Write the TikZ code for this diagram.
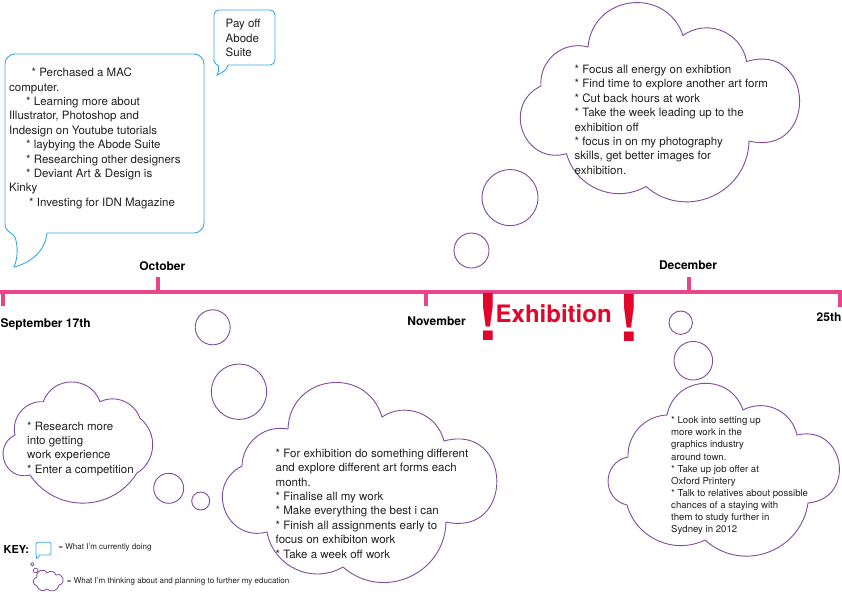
\documentclass[tikz,border=0pt]{standalone}
\usepackage{fontspec}
\setmainfont{TeX Gyre Heros}
\usetikzlibrary{calc}
\definecolor{bubbleblue}{HTML}{3AA8E0}
\definecolor{cloudpurple}{HTML}{7F4C9E}
\definecolor{timepink}{HTML}{E8458B}
\definecolor{exred}{HTML}{E2062C}
\definecolor{txt}{HTML}{231F20}
\tikzset{
 puff/.code={\pgfmathsetmacro\pufflo{0.6667*tan(#1/2)/sin(#1)/0.3915}\edef\puffdo{\noexpand\pgfkeysalso{/tikz/bend left=#1,/tikz/looseness=\pufflo}}\puffdo},
 cloudline/.style={draw=cloudpurple, line width=0.9pt},
 bubbleline/.style={draw=bubbleblue, line width=0.9pt},
 thought/.style={circle, draw=cloudpurple, line width=0.9pt, inner sep=0pt, minimum size=#1},
 bodytext/.style={anchor=base west, inner sep=0pt, text=txt, font=\fontsize{11.5}{14.4}\selectfont},
 smalltext/.style={anchor=base west, inner sep=0pt, text=txt, font=\fontsize{9.6}{12.1}\selectfont},
 keytext/.style={anchor=base west, inner sep=0pt, text=txt, font=\fontsize{8}{10}\selectfont},
 monthlabel/.style={anchor=base, inner sep=0pt, text=black, font=\bfseries\fontsize{12}{14}\selectfont},
 tickline/.style={draw=timepink, line width=4pt},
 bang/.style={anchor=base, inner sep=0pt, text=exred, font=\bfseries\fontsize{65}{65}\selectfont},
}
\newcommand{\bul}{{*}}
\begin{document}
\begin{tikzpicture}[x=1pt,y=-1pt]
\fill[white] (0,0) rectangle (842,595);
\useasboundingbox (0,0) rectangle (842,595);

% ---------- timeline ----------
\coordinate (tlA) at (0,292);
\coordinate (tlB) at (842,292);
\draw[draw=timepink, line width=3.5pt] (tlA) -- (tlB);
\coordinate (tk0) at (3,292);      \coordinate (tk0e) at (3,306);
\coordinate (tk1) at (157.5,292);  \coordinate (tk1e) at (157.5,277);
\coordinate (tk2) at (426,292);    \coordinate (tk2e) at (426,306);
\coordinate (tk3) at (688.5,292);  \coordinate (tk3e) at (688.5,277);
\coordinate (tk4) at (839.5,292);  \coordinate (tk4e) at (839.5,307);
\foreach \a in {0,...,4} \draw[tickline] (tk\a) -- (tk\a e);

\node[monthlabel] (oct) at (162.3,270) {October};
\node[monthlabel] (dec) at (688,269) {December};
\node[monthlabel, anchor=base west] (sep) at (0.5,327) {September 17th};
\node[monthlabel] (nov) at (436.5,325) {November};
\node[monthlabel, anchor=base west] (end) at (816.5,321) {25th};

\node[anchor=base west, inner sep=0pt, text=exred, font=\bfseries\fontsize{24}{24}\selectfont] (exh) at (495.5,322.7) {Exhibition};
\node[bang] (bang1) at (488.3,340.7) {!};
\node[bang] (bang2) at (629,341.5) {!};

% ---------- blue speech bubbles ----------
\draw[bubbleline] (47,233) -- (194,233) .. controls (199.5,233) and (204,228.5) .. (204,223)
  -- (204,64) .. controls (204,58.5) and (199.5,54) .. (194,54)
  -- (15,54) .. controls (9.5,54) and (5,58.5) .. (5,64)
  -- (5,224) .. controls (5,232) and (12,232) .. (15,237)
  .. controls (18,246) and (18,258) .. (14,267)
  .. controls (30,263) and (45,252) .. (47,233) -- cycle;
\node[bodytext] (now) at (9,76.7) {\begin{tabular}[t]{@{}l@{}}
\hspace*{22.5pt}\bul{} Perchased a MAC\\
computer.\\
\hspace*{17pt}\bul{} Learning more about\\
Illustrator, Photoshop and\\
Indesign on Youtube tutorials\\
\hspace*{17pt}\bul{} laybying the Abode Suite\\
\hspace*{17pt}\bul{} Researching other designers\\
\hspace*{17pt}\bul{} Deviant Art \& Design is\\
Kinky\\
\hspace*{20pt}\bul{} Investing for IDN Magazine
\end{tabular}};

\draw[bubbleline] (228,65) -- (270,65) .. controls (272.8,65) and (275,62.8) .. (275,60)
  -- (275,15) .. controls (275,12.2) and (272.8,10) .. (270,10)
  -- (219,10) .. controls (216.2,10) and (214,12.2) .. (214,15)
  -- (214,60) .. controls (214,64) and (217,64) .. (218.5,66)
  .. controls (219,70) and (218.5,73) .. (217,75)
  .. controls (222,73) and (227,70) .. (228,65) -- cycle;
\node[bodytext] (pay) at (225.5,27.7) {\begin{tabular}[t]{@{}l@{}}Pay off\\Abode\\Suite\end{tabular}};

% ---------- cloud 1 (top right) ----------
\draw[cloudline] (541,86) to[puff=55] (588,47) to[puff=78] (683,35.5) to[puff=58] (746.6,61.5)
  to[puff=105] (749,141) to[puff=65] (646,186.5) to[puff=52] (566.5,153.7) to[puff=85] (541,86);
\node[thought=56pt] (c1a) at (510,197.6) {};
\node[thought=35pt] (c1b) at (471.5,250.5) {};
\node[bodytext] (dec1) at (574.5,73.5) {\begin{tabular}[t]{@{}l@{}}
\bul{} Focus all energy on exhibtion\\
\bul{} Find time to explore another art form\\
\bul{} Cut back hours at work\\
\bul{} Take the week leading up to the\\
exhibition off\\
\bul{} focus in on my photography\\
skills, get better images for\\
exhibition.
\end{tabular}};

% ---------- cloud 2 (bottom left) ----------
\draw[cloudline] (15,435) to[puff=53] (43.3,401.7) to[puff=70] (100,401.7) to[puff=48] (140,418.3)
  to[puff=55] (136.7,473.3) to[puff=57] (30,475) to[puff=84] (15,435);
\node[thought=30pt] (c2a) at (168.7,488.3) {};
\node[thought=18pt] (c2b) at (200.7,501) {};
\node[bodytext] (sep1) at (27,430) {\begin{tabular}[t]{@{}l@{}}
\bul{} Research more\\
into getting\\
work experience\\
\bul{} Enter a competition
\end{tabular}};

% ---------- cloud 3 (bottom centre) ----------
\draw[cloudline] (242,466) to[puff=50] (288,429) to[puff=81] (382,417) to[puff=55] (444,441)
  to[puff=104] (446,522) to[puff=65] (343,567) to[puff=55] (267,532) to[puff=84] (242,466);
\node[thought=35pt] (c3a) at (212.7,327.3) {};
\node[thought=55.4pt] (c3b) at (239,391.7) {};
\node[bodytext] (oct1) at (275.5,457.3) {\begin{tabular}[t]{@{}l@{}}
\bul{} For exhibition do something different\\
and explore different art forms each\\
month.\\
\bul{} Finalise all my work\\
\bul{} Make everything the best i can\\
\bul{} Finish all assignments early to\\
focus on exhibiton work\\
\bul{} Take a week off work
\end{tabular}};

% ---------- cloud 4 (bottom right) ----------
\draw[cloudline] (628,457) to[puff=45] (667,415) to[puff=75] (743,410) to[puff=53] (797,435)
  to[puff=94] (808,503) to[puff=62] (705,540) to[puff=50] (627,505) to[puff=78] (628,457);
\node[thought=23.4pt] (c4a) at (680.7,322.7) {};
\node[thought=38.6pt] (c4b) at (693.3,360.7) {};
\node[smalltext] (dec2) at (671,423.7) {\begin{tabular}[t]{@{}l@{}}
\bul{} Look into setting up\\
more work in the\\
graphics industry\\
around town.\\
\bul{} Take up job offer at\\
Oxford Printery\\
\bul{} Talk to relatives about possible\\
chances of a staying with\\
them to study further in\\
Sydney in 2012
\end{tabular}};

% ---------- key ----------
\node[anchor=base west, inner sep=0pt, text=black, font=\bfseries\fontsize{11}{13}\selectfont] (key) at (3.5,553.3) {KEY:};
\draw[bubbleline, line width=0.8pt] (39.5,555) -- (49.5,555) .. controls (50.3,555) and (51,554.3) .. (51,553.5)
  -- (51,543.8) .. controls (51,543) and (50.3,542.3) .. (49.5,542.3)
  -- (37.5,542.3) .. controls (36.7,542.3) and (36,543) .. (36,543.8)
  -- (36,554) .. controls (36.5,556) and (37,557) .. (36.7,558.5)
  .. controls (38,557.5) and (39.3,556.5) .. (39.5,555) -- cycle;
\node[keytext] (keyA) at (58.3,549.5) {= What I'm currently doing};
\draw[cloudline, line width=0.8pt] (37,586) to[puff=79] (37,577) to[puff=84] (47,573) to[puff=60] (56,575)
  to[puff=96] (59,585) to[puff=62] (47,589) to[puff=60] (37,586);
\node[thought=3.4pt, line width=0.7pt] (k1) at (32.3,564.3) {};
\node[thought=4.6pt, line width=0.7pt] (k2) at (35.7,570.5) {};
\node[keytext] (keyB) at (66.7,583.5) {= What I'm thinking about and planning to further my education};
\end{tikzpicture}
\end{document}
